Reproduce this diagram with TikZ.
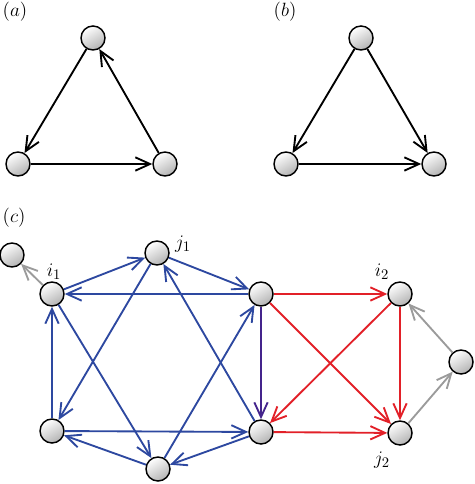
\documentclass[tikz,border=0pt]{standalone}
\usepackage{xcolor}
\usepackage{tikz}
\usetikzlibrary{arrows.meta,shapes,calc,backgrounds}
\definecolor{netblue}{RGB}{45,72,160}
\definecolor{netred}{RGB}{226,32,40}
\definecolor{netpurple}{RGB}{68,36,140}
\definecolor{netgray}{RGB}{155,155,155}
\begin{document}
\begin{tikzpicture}[x=0.75pt,y=-0.75pt,font=\fontsize{15}{18}\selectfont,
    ball/.style={circle,draw=black,line width=1.1pt,inner sep=0pt,minimum size=18pt,
      top color=white,bottom color=gray!60,shading angle=30},
    link/.style={-{Straight Barb[length=11pt,width=10pt]},line width=1.4pt},
    blk/.style={link,black},
    blu/.style={link,netblue},
    rd/.style={link,netred},
    gr/.style={link,netgray}]
      \useasboundingbox (0,0) rectangle (474,484);
      % (a) cycle
      \node (lbla) at (-2,12) [anchor=west] {$(a)$};
      \node [ball] (a1) at (93,38) {};
      \node [ball] (a2) at (18,164) {};
      \node [ball] (a3) at (165,164) {};
      \draw [blk] (a1) -- (a2);
      \draw [blk] (a2) -- (a3);
      \draw [blk] (a3) -- (a1);
      % (b) feed-forward
      \node (lblb) at (285,12) {$(b)$};
      \node [ball] (b1) at (361,38) {};
      \node [ball] (b2) at (286,164) {};
      \node [ball] (b3) at (434,164) {};
      \draw [blk] (b1) -- (b2);
      \draw [blk] (b1) -- (b3);
      \draw [blk] (b2) -- (b3);
      % (c) two coupled motifs
      \node (lblc) at (-2,218) [anchor=west] {$(c)$};
      \node [ball] (c0) at (12,255) {};
      \node [ball] (i1) at (52,294) {};
      \node [ball] (j1) at (157,253) {};
      \node [ball] (h1) at (261,294) {};
      \node [ball] (l2) at (52,431) {};
      \node [ball] (bt) at (158,469) {};
      \node [ball] (h2) at (261,432) {};
      \node [ball] (i2) at (400,294) {};
      \node [ball] (j2) at (400,433) {};
      \node [ball] (rr) at (461,362) {};
      \node (ti1) at (54,272) {$i_1$};
      \node (tj1) at (183,244) {$j_1$};
      \node (ti2) at (382,272) {$i_2$};
      \node (tj2) at (382,460) {$j_2$};
      \draw [blu] (i1) -- (j1);
      \draw [blu] (j1) -- (h1);
      \draw [blu] (h1) -- (i1);
      \draw [blu] (l2) -- (i1);
      \draw [blu] (l2) -- (h2);
      \draw [blu] (h2) -- (bt);
      \draw [blu] (bt) -- (l2);
      \draw [blu] (i1) -- (bt);
      \draw [blu] (j1) -- (l2);
      \draw [blu] (bt) -- (h1);
      \draw [blu] (h2) -- (j1);
      \draw [link,netpurple] (h1) -- (h2);
      \draw [rd] (h1) -- (i2);
      \draw [rd] (h1) -- (j2);
      \draw [rd] (i2) -- (h2);
      \draw [rd] (i2) -- (j2);
      \draw [rd] (h2) -- (j2);
      \draw [gr] (i1) -- (c0);
      \draw [gr] (j2) -- (rr);
      \draw [gr] (rr) -- (i2);
    \end{tikzpicture}
\end{document}
